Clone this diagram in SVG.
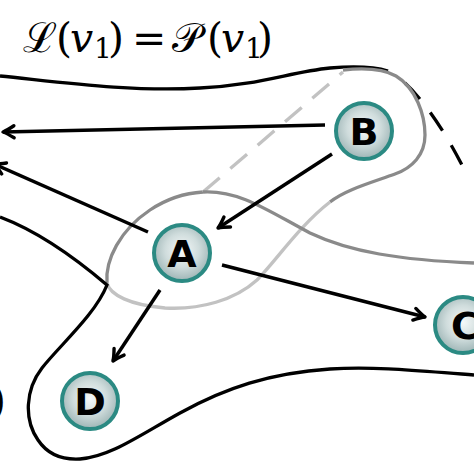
<svg xmlns="http://www.w3.org/2000/svg" width="474" height="474" viewBox="0 0 474 474">
<defs>
  <radialGradient id="nodeFill" cx="50%" cy="45%" r="55%">
    <stop offset="0%" stop-color="#f6f9f9"/>
    <stop offset="55%" stop-color="#cfdcdc"/>
    <stop offset="100%" stop-color="#9db4b5"/>
  </radialGradient>
  <marker id="arrow" viewBox="-14 -8 16 16" refX="0" refY="0" markerWidth="16" markerHeight="16" markerUnits="userSpaceOnUse" orient="auto" overflow="visible">
    <path d="M-11,-6 Q-4,-1.5 0,0 Q-4,1.5 -11,6" fill="none" stroke="#000" stroke-width="3.4" stroke-linecap="round" stroke-linejoin="round"/>
  </marker>
</defs>
<style>
  .hull-black { fill: none; stroke: #000; stroke-width: 3.3; }
  .hull-dark { fill: none; stroke: #8a8a8a; stroke-width: 3.3; }
  .hull-light { fill: none; stroke: #c2c2c2; stroke-width: 3.3; }
  .edge { fill: none; stroke: #000; stroke-width: 3.5; marker-end: url(#arrow); }
  .node circle { fill: url(#nodeFill); stroke: #2b8a83; stroke-width: 4; }
  .node text { font-family: "DejaVu Sans", "Liberation Sans", sans-serif; font-weight: bold; font-size: 38px; fill: #000; text-anchor: middle; }
  .math { font-family: "DejaVu Serif", "Liberation Serif", serif; font-size: 41px; fill: #000; }
</style>

<g id="title">
  <text class="math" y="52">
    <tspan x="23">ℒ</tspan><tspan x="56">(</tspan><tspan x="70" font-style="italic">v</tspan><tspan x="94" y="58" font-size="28">1</tspan><tspan x="108" y="52">)</tspan><tspan x="132">=</tspan><tspan x="172">𝒫</tspan><tspan x="207">(</tspan><tspan x="221" font-style="italic">v</tspan><tspan x="245" y="58" font-size="28">1</tspan><tspan x="257" y="52">)</tspan>
  </text>
  <text class="math" x="-10" y="415" font-size="36">)</text>
</g>

<g id="hulls">
  <path class="hull-black" d="M0,76 C60,82 130,92 200,88 C260,85 290,72 330,68 C355,66 375,67 388,71"/>
  <path class="hull-black" d="M405,83 C420,97 442,124 468,177" stroke-dasharray="22 17"/>
  <path class="hull-dark" d="M343,70 C362,68 382,68 396,76 C416,88 425,115 425,135 C425,155 412,168 395,174 C370,183 345,190 330,202"/>
  <path class="hull-light" d="M330,202 C300,225 275,262 257,280 C235,300 200,310 165,308 C130,305 110,295 107,283"/>
  <path class="hull-dark" d="M107,283 C105,260 120,230 150,210 C168,198 186,193 203,192"/>
  <path class="hull-light" d="M203,192 L343,72" stroke-dasharray="22 14"/>
  <path class="hull-dark" d="M203,192 C240,190 270,212 310,233 C350,252 400,260 474,263" stroke="#959595"/>
  <path class="hull-black" d="M0,217 C40,232 80,262 107,285 C95,315 60,345 42,368 C25,390 24,420 38,440 C48,455 63,460 80,459 C110,457 140,435 180,413 C225,388 270,373 330,369 C380,366 430,372 474,375"/>
</g>

<g id="connectors">
  <line class="edge" x1="325" y1="125" x2="3" y2="132"/>
  <line class="edge" x1="332" y1="154" x2="218" y2="228"/>
  <line class="edge" x1="148" y1="232" x2="-6" y2="164"/>
  <line class="edge" x1="222" y1="265" x2="425" y2="317"/>
  <line class="edge" x1="160" y1="290" x2="113" y2="361"/>
</g>

<g id="node-B" class="node">
  <circle cx="364" cy="131" r="28"/>
  <text x="364" y="145">B</text>
</g>
<g id="node-A" class="node">
  <circle cx="182" cy="253" r="28"/>
  <text x="182" y="267">A</text>
</g>
<g id="node-C" class="node">
  <circle cx="463" cy="325" r="28"/>
  <text x="465" y="339">C</text>
</g>
<g id="node-D" class="node">
  <circle cx="90" cy="401" r="28"/>
  <text x="90" y="415">D</text>
</g>
</svg>
